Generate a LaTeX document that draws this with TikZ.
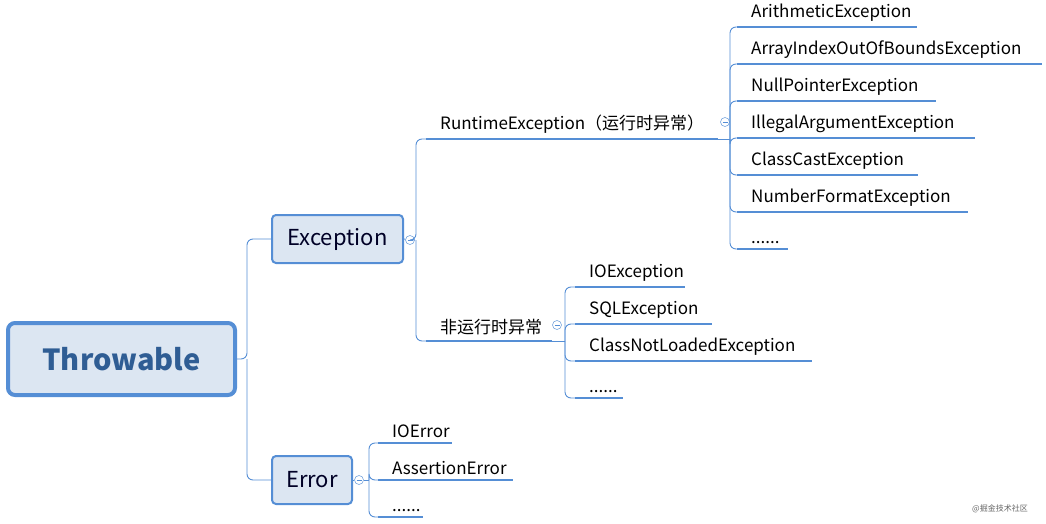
\documentclass[tikz,border=0pt]{standalone}
\usepackage{fontspec}
\setmainfont{Noto Sans CJK SC}
\definecolor{mapblue}{HTML}{558ED5}
\definecolor{mapfill}{HTML}{DCE6F2}
\definecolor{maptext}{HTML}{2F5D94}
\newcommand\moredots{......}
\tikzset{
  link/.style={draw=mapblue,line width=0.9pt,rounded corners=6pt},
  topic/.style={draw=mapblue,fill=mapfill,line width=2pt,rounded corners=4pt,
    font=\fontsize{22}{26}\selectfont,text=black!85!blue,inner sep=0pt},
  leaf/.style={anchor=south west,inner xsep=14pt,inner ysep=5.5pt,align=left,
    text width=#1-28pt,font=\fontsize{17}{20}\selectfont,
    append after command={(\tikzlastnode.south west) edge[draw=mapblue,line width=2.6pt] (\tikzlastnode.south east)}},
  fold/.style={circle,draw=mapblue!80,line width=0.6pt,minimum size=9pt,inner sep=0pt,
    path picture={\draw[mapblue,line width=0.6pt] ([xshift=-2.5pt]path picture bounding box.center) -- ([xshift=2.5pt]path picture bounding box.center);}}
}
\begin{document}
\begin{tikzpicture}[x=1pt,y=-1pt]
  \useasboundingbox (0,0) rectangle (1046,524);

  % Root and first level
  \node[topic,line width=4pt,rounded corners=7pt,minimum width=227pt,minimum height=72pt,
        font=\bfseries\fontsize{29}{34}\selectfont,text=maptext] (root) at (121.5,359) {Throwable};
  \node[topic,minimum width=131pt,minimum height=48pt] (exc) at (337.5,239) {Exception};
  \node[topic,minimum width=80pt,minimum height=48pt] (err) at (312,480) {Error};
  \coordinate (hub-root) at (247,359);
  \draw[link] (root.east) -- (hub-root) |- (exc.west);
  \draw[link] (hub-root) |- (err.west);

  % Exception branch
  \node[fold] (f-exc) at (410,240) {};
  \coordinate (hub-exc) at (416,240);
  \draw[link] (exc.east) -- (f-exc);
  \node[leaf=292pt] (rt) at (426,139) {RuntimeException（运行时异常）};
  \node[leaf=126pt] (nrt) at (426,341) {非运行时异常};
  \draw[link] (f-exc.east) -- (hub-exc) |- (rt.south west);
  \draw[link] (hub-exc) |- (nrt.south west);

  % Runtime exceptions
  \node[fold] (f-rt) at (725,122) {};
  \coordinate (hub-rt) at (730,139);
  \draw[link,rounded corners=0pt] (rt.south east) -- (hub-rt);
  \foreach \name/\y/\w/\txt in {a/27/180/ArithmeticException,
      b/64/305/ArrayIndexOutOfBoundsException, c/101/199/NullPointerException,
      d/138/238/IllegalArgumentException, e/175/181/ClassCastException,
      f/212/231/NumberFormatException, g/249/51/\moredots}
  {
    \node[leaf=\w pt] (rt-\name) at (737,\y) {\txt};
    \draw[link] (hub-rt) |- (rt-\name.south west);
  }

  % Checked exceptions
  \node[fold] (f-nrt) at (557,325) {};
  \coordinate (hub-nrt) at (565,341);
  \draw[link,rounded corners=0pt] (nrt.south east) -- (hub-nrt);
  \foreach \name/\y/\w/\txt in {a/287/110/IOException, b/324/137/SQLException,
      c/361/237/ClassNotLoadedException, d/398/48/\moredots}
  {
    \node[leaf=\w pt] (nrt-\name) at (575,\y) {\txt};
    \draw[link] (hub-nrt) |- (nrt-\name.south west);
  }

  % Error branch
  \node[fold] (f-err) at (359,480) {};
  \coordinate (hub-err) at (369,480);
  \draw[link] (err.east) -- (f-err) (f-err.east) -- (hub-err);
  \foreach \name/\y/\w/\txt in {a/443/74/IOError, b/480/135/AssertionError, c/517/45/\moredots}
  {
    \node[leaf=\w pt] (err-\name) at (378,\y) {\txt};
    \draw[link] (hub-err) |- (err-\name.south west);
  }

  \node[font=\fontsize{8}{10}\selectfont,text=black!60] (mark) at (1000,509) {@掘金技术社区};
\end{tikzpicture}
\end{document}
